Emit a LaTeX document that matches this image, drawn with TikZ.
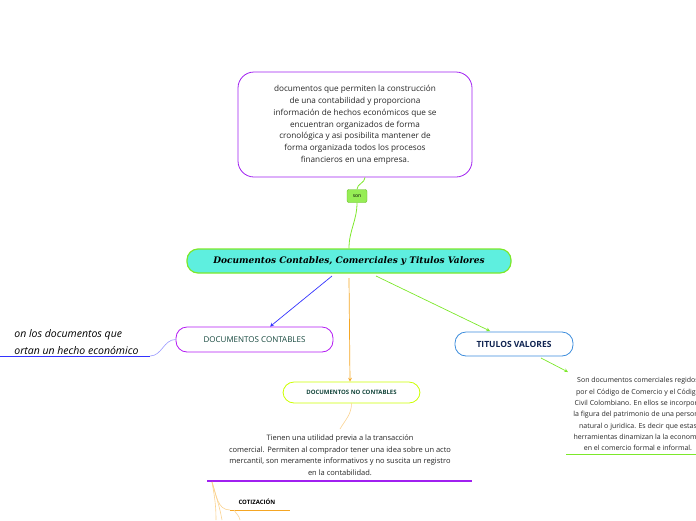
\documentclass[tikz,border=0pt]{standalone}
\usepackage{fontspec}
\setmainfont{Open Sans}
\newfontfamily\titlefont{DejaVu Serif}
\begin{document}
\begin{tikzpicture}[x=1pt,y=-1pt,
  box/.style={draw,rounded corners=11pt,line width=0.8pt,align=center,inner sep=0pt},
  txt/.style={font=\fontsize{7.5}{11}\selectfont,align=center,text=black!85}]
\useasboundingbox (0,0) rectangle (696,520);
\definecolor{pur}{HTML}{A020F0}
\definecolor{grn}{HTML}{7CE82A}
\definecolor{org}{HTML}{F5A623}
% top box
\node[box,draw=pur,minimum width=234pt,minimum height=105pt,rounded corners=16pt] (top) at (355,124.5) {};
\node[txt,font=\fontsize{8.2}{11.8}\selectfont] (toptxt) at (355,125) {documentos que permiten la construcción\\de una contabilidad y proporciona\\información de hechos económicos que se\\encuentran  organizados de forma\\cronológica y asi posibilita mantener de\\forma organizada  todos los procesos\\financieros en una empresa.};
\node[draw=grn!80!black,fill=grn!80,rounded corners=2pt,minimum width=20pt,minimum height=13pt,inner sep=0pt,font=\fontsize{5}{6}\selectfont] (son) at (357,196) {son};
\node[box,draw=grn,fill={rgb,255:red,94;green,239;blue,223},minimum width=324pt,minimum height=24pt,line width=1.2pt] (title) at (349,261) {\titlefont\bfseries\itshape\fontsize{9}{10}\selectfont Documentos Contables, Comerciales y Titulos Valores};
\draw[grn,line width=0.8pt] (top.south) ++(10,0) coordinate (tb) (tb) to[out=-90,in=90] (son.north);
\draw[grn,line width=0.8pt] (son.south) to[out=-90,in=90] (title.north);
% contables
\node[box,draw=pur!80!magenta,minimum width=157pt,minimum height=25pt,text={rgb,255:red,20;green,70;blue,60},font=\fontsize{8}{10}\selectfont] (cont) at (254.5,339.5) {DOCUMENTOS CONTABLES};
\coordinate (t1) at (332,276);
\draw[blue!80,-stealth,line width=0.7pt] (t1) -- (cont.north -| 270,0) ;
\node[font=\fontsize{10.5}{17}\selectfont\itshape,anchor=east,align=left,text=black] (lt) at (142,342) {on los documentos que\\ortan un hecho económico};
\coordinate (ul) at (150,356);
\draw[blue!80,line width=0.8pt] (0,356) -- (ul);
\draw[blue!40,line width=0.6pt] (ul) to[out=0,in=180] (cont.west);
% titulos
\node[box,draw={rgb,255:red,60;green,140;blue,220},minimum width=118pt,minimum height=24pt,text={rgb,255:red,15;green,35;blue,80},font=\bfseries\fontsize{8.5}{10}\selectfont] (tit) at (514,344) {TITULOS VALORES};
\coordinate (t2) at (376,276);
\draw[grn,-stealth,line width=0.7pt] (t2) -- (490,331);
\node[txt,font=\fontsize{7}{11.3}\selectfont,anchor=north] (titxt) at (638,374) {Son documentos comerciales regidos\\por el Código de Comercio y el Código\\Civil Colombiano. En ellos se incorpora\\la figura del patrimonio de una persona\\natural o juridica. Es decir que estas\\herramientas dinamizan la  la economía\\en el comercio formal e informal.};
\draw[grn,-stealth,line width=0.7pt] (541,358) -- (568,372);
\draw[grn,line width=1pt] (566,454) -- (696,454);
% no contables
\node[box,draw=lime!80!yellow,minimum width=137pt,minimum height=21pt,text={rgb,255:red,20;green,70;blue,60},font=\bfseries\fontsize{6}{8}\selectfont] (nocont) at (351.5,392.5) {DOCUMENTOS NO CONTABLES};
\coordinate (t3) at (349,278);
\draw[org,-stealth,line width=0.7pt] (t3) -- (nocont.north -| 350,0);
\node[txt,font=\fontsize{7.5}{11.5}\selectfont] (nctxt) at (340,455) {Tienen una utilidad previa a la transacción\\comercial. Permiten al comprador tener una idea sobre un acto\\mercantil, son meramente informativos y no suscita un registro\\en la contabilidad.};
\draw[org!50,line width=0.6pt] (nocont.south) to[out=-90,in=60] (340,429);
\coordinate (pl) at (207,481);
\draw[pur,line width=1.1pt] (pl) -- (472,481);
\node[font=\bfseries\fontsize{6}{8}\selectfont,anchor=west] (cot) at (235,502) {COTIZACIÓN};
\draw[org,line width=1pt] (230,510) -- (290,510);
\draw[org!50,line width=0.6pt] (212,482) to[out=-70,in=180] (230,510);
\draw[org!50,line width=0.6pt] (212,482) to[out=-80,in=90] (216,520);
\draw[org!50,line width=0.6pt] (212,482) to[out=-75,in=100] (222,520);
\draw[org!50,line width=0.6pt] (234,510) to[out=-60,in=100] (240,520);
\end{tikzpicture}
\end{document}
